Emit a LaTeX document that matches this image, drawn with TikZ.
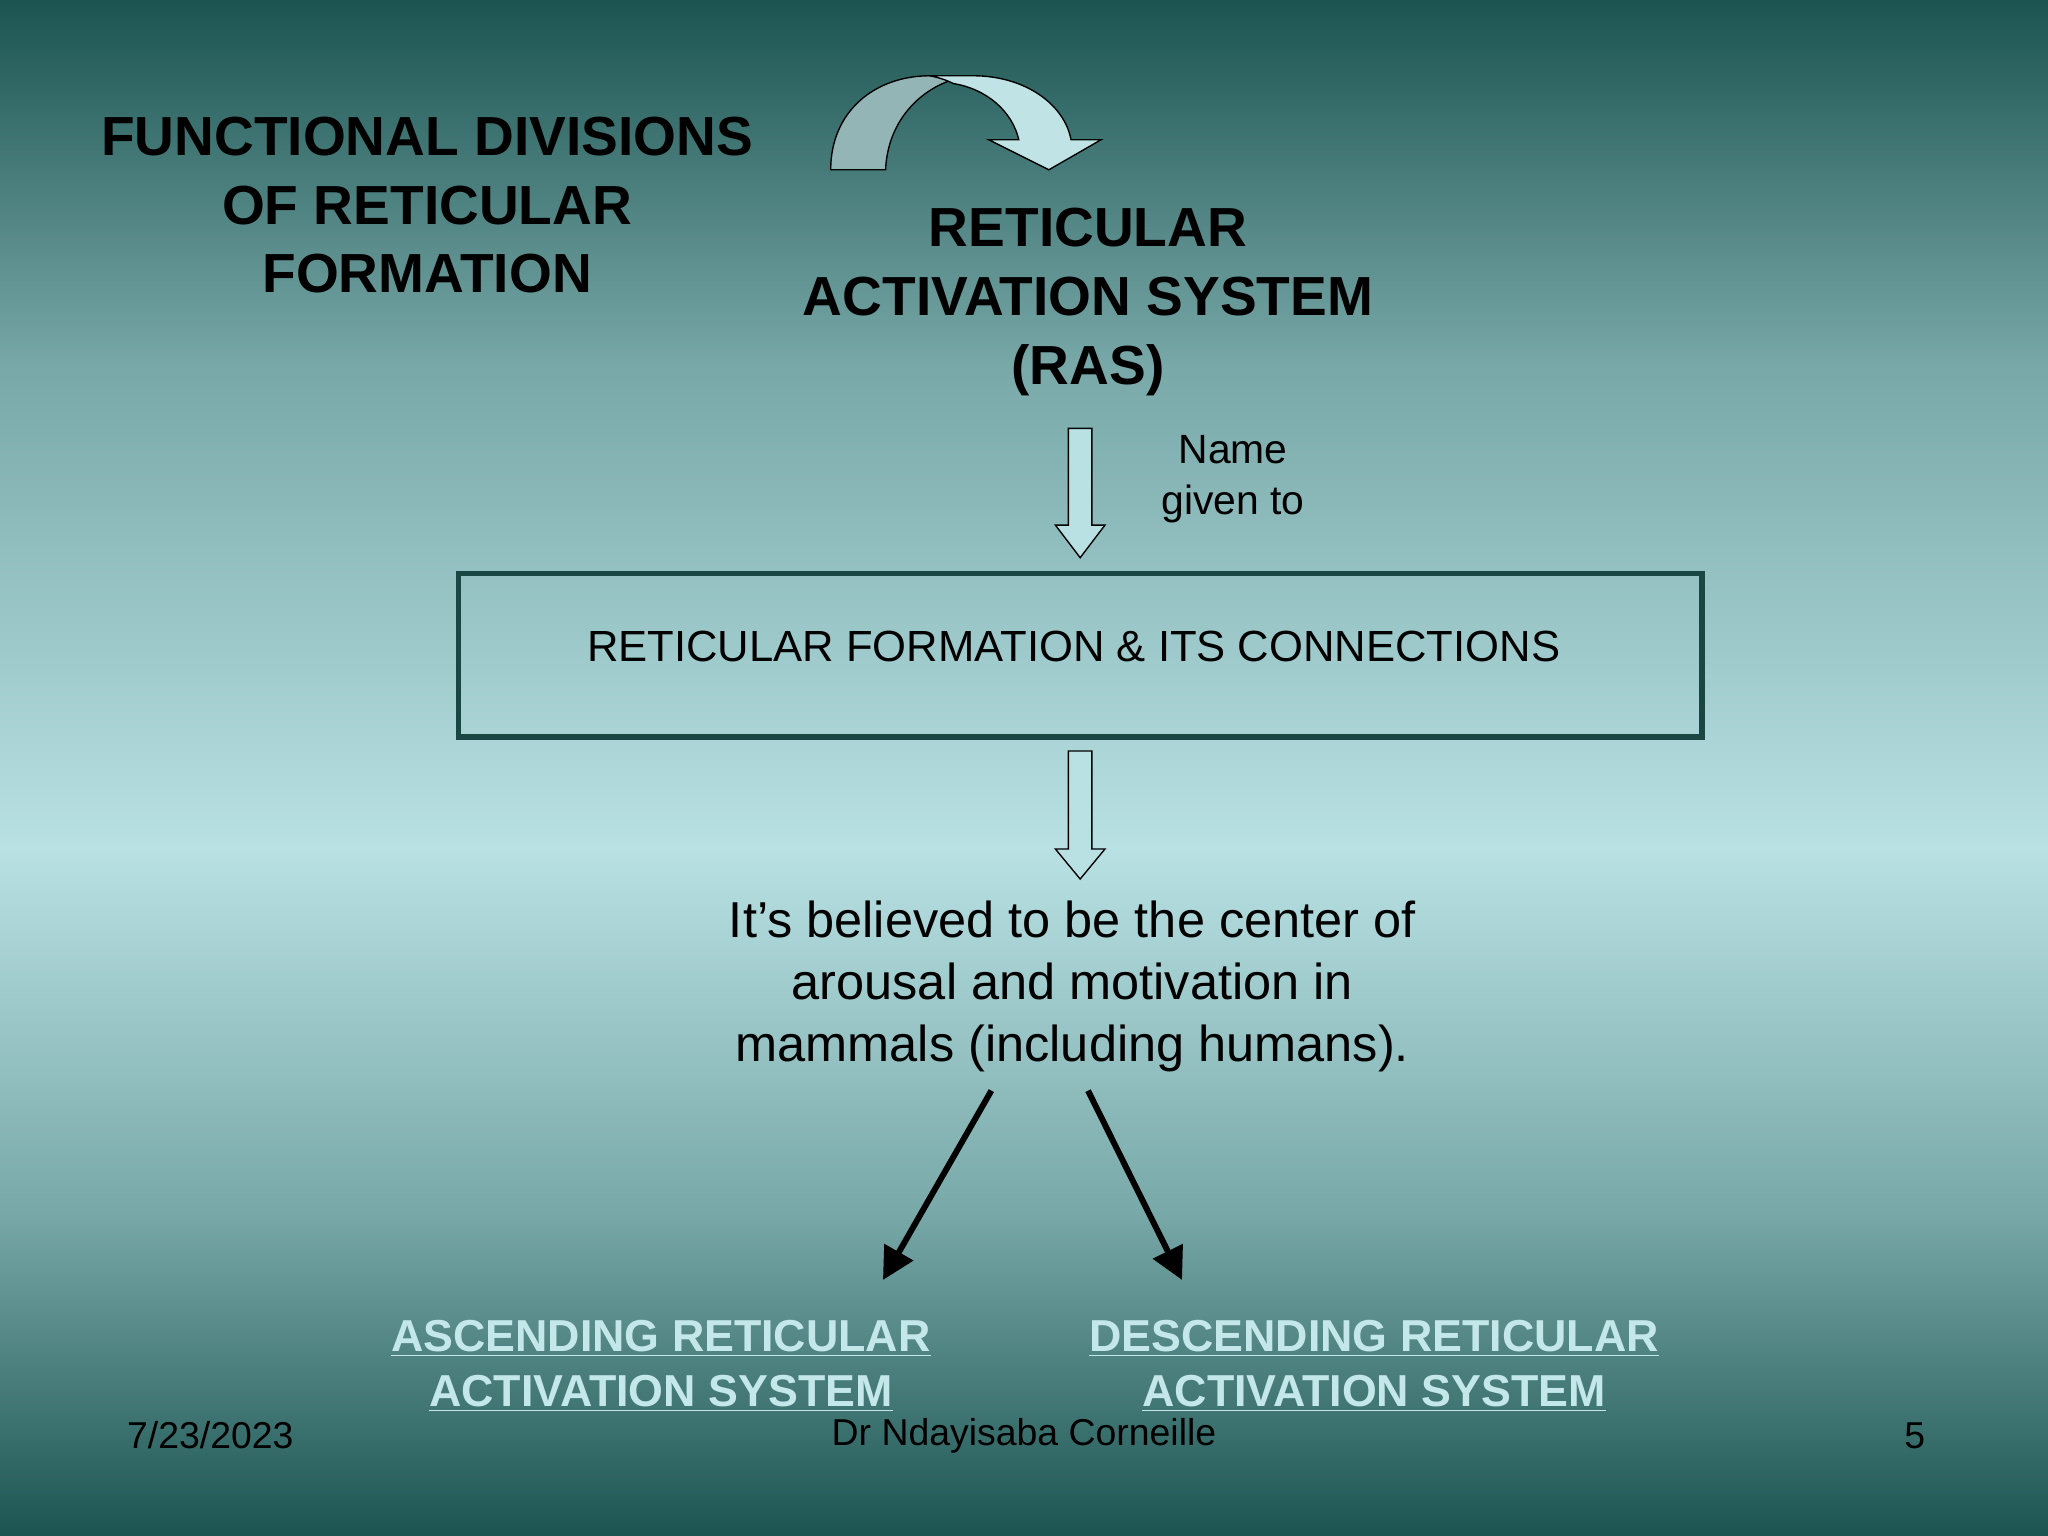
\documentclass[tikz,border=0pt]{standalone}
\usepackage{fontspec}
\setmainfont{Liberation Sans}
\usetikzlibrary{arrows.meta}
\definecolor{dk}{HTML}{1B5450}
\definecolor{md}{HTML}{78A8A8}
\definecolor{lt}{HTML}{B9E1E4}
\definecolor{link}{HTML}{C4E8EA}
\definecolor{bx}{HTML}{1A4744}
\definecolor{arrf}{HTML}{C0E4E6}
\definecolor{arrd}{HTML}{93B5B5}
\tikzset{
 ttl/.style={font=\bfseries\fontsize{24}{30}\selectfont,align=center,text=black},
 body/.style={font=\fontsize{22}{27}\selectfont,align=center},
 lnk/.style={font=\bfseries\fontsize{19.5}{24}\selectfont,align=center,text=link},
 foot/.style={font=\fontsize{16.3}{19}\selectfont},
 hollow/.style={draw=black,line width=0.6pt,fill=lt},
 blk/.style={line width=2.6pt,-{Triangle[length=14pt,width=14pt]}}
}
\begin{document}
\begin{tikzpicture}[x=0.02cm,y=-0.02cm]
\useasboundingbox (0,0) rectangle (1568,1176);
\shade[top color=dk,bottom color=md] (0,0) rectangle (1568,280);
\shade[top color=md,bottom color=lt] (0,279) rectangle (1568,650);
\shade[top color=lt,bottom color=md] (0,649) rectangle (1568,930);
\shade[top color=md,bottom color=dk] (0,929) rectangle (1568,1176);
% curved arrow
\draw[line width=0.6pt,fill=arrd] (636,130) .. controls (636,85) and (670,58) .. (712,58) -- (745,58) .. controls (715,60) and (680,85) .. (678,130) -- cycle;
\draw[line width=0.6pt,fill=arrf] (712,58) -- (745,58) .. controls (785,58) and (815,80) .. (820,107) -- (843,107) -- (803,130) -- (757,107) -- (780,107) .. controls (775,85) and (755,68) .. (730,64) .. controls (722,60) and (716,59) .. (712,58) -- cycle;
\node[ttl] (title) at (327,157) {FUNCTIONAL DIVISIONS\\OF RETICULAR\\FORMATION};
\node[ttl] (ras) at (833,231) {RETICULAR\\ACTIVATION SYSTEM\\(RAS)};
\draw[hollow] (818,328) -- (836,328) -- (836,402) -- (846,402) -- (827,427) -- (808,402) -- (818,402) -- cycle;
\node[font=\fontsize{17.8}{22}\selectfont,align=center] (name) at (944,367) {Name\\given to};
\draw[bx,line width=2.5pt] (351,439) rectangle (1303,564);
\node[font=\fontsize{19}{22}\selectfont] (box) at (822,495) {RETICULAR FORMATION \& ITS CONNECTIONS};
\draw[hollow] (818,575) -- (836,575) -- (836,650) -- (846,650) -- (827,673) -- (808,650) -- (818,650) -- cycle;
\node[body] (belief) at (821,755) {It’s believed to be the center of\\arousal and motivation in\\mammals (including humans).};
\coordinate (s1) at (759,835); \coordinate (e1) at (676,980);
\coordinate (s2) at (833,835); \coordinate (e2) at (905,980);
\draw[blk] (s1) -- (e1);
\draw[blk] (s2) -- (e2);
\node[lnk] (asc) at (506,1046) {\underline{ASCENDING RETICULAR}\\\underline{ACTIVATION SYSTEM}};
\node[lnk] (desc) at (1052,1046) {\underline{DESCENDING RETICULAR}\\\underline{ACTIVATION SYSTEM}};
\node[foot] (date) at (161,1099) {7/23/2023};
\node[foot] (auth) at (784,1099) {Dr Ndayisaba Corneille};
\node[foot] (pg) at (1466,1099) {5};
\end{tikzpicture}
\end{document}
